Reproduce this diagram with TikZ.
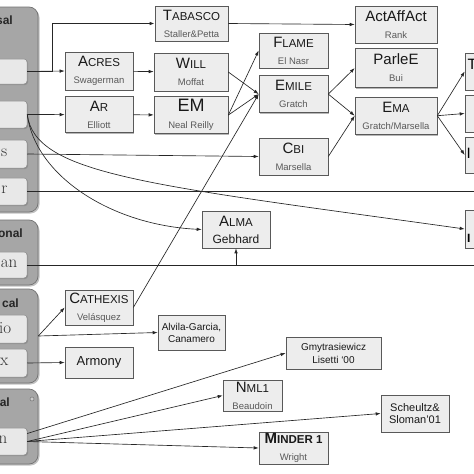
\documentclass[tikz,border=0pt]{standalone}
\usepackage{fontspec}
\setsansfont{Liberation Sans}
\usetikzlibrary{positioning,arrows.meta,shadows}
\newcommand\nm[2]{{\fontsize{15}{15}\selectfont#1}{\fontsize{11.5}{12}\selectfont#2}}
\newcommand\au[1]{{\fontsize{9.5}{10}\selectfont\color{black!65}#1}}

\begin{document}
\begin{tikzpicture}[x=1pt,y=-1pt,
  font=\sffamily\fontsize{10}{17}\selectfont,
  sz/.style 2 args={minimum width=#1pt, minimum height=#2pt},
  model/.style={draw=black!65, fill=black!7, line width=.6pt, align=center, inner sep=1pt, text=black!90,
    drop shadow={shadow xshift=1.3pt, shadow yshift=-1.3pt, fill=black!40, opacity=.7}},
  group/.style={draw=black!55, fill=black!35, line width=.7pt, rounded corners=9pt,
    drop shadow={shadow xshift=1.5pt, shadow yshift=-1.5pt, fill=black!40, opacity=.6}},
  item/.style={draw=black!45, fill=black!9, line width=.5pt, rounded corners=3pt, minimum width=77pt,
    drop shadow={shadow xshift=1pt, shadow yshift=-1pt, fill=black!50, opacity=.6}},
  glabel/.style={anchor=east, inner sep=0pt, text=black!85, font=\sffamily\bfseries\fontsize{12}{12}\selectfont},
  frag/.style={anchor=east, inner sep=0pt, text=black!80, font=\rmfamily\fontsize{17}{17}\selectfont},
  link/.style={draw=black!85, line width=.65pt},
  >={Latex[length=5pt,width=3.5pt]}]
\useasboundingbox (0,0) rectangle (474,474);
\clip (0,0) rectangle (474,474);
\fill[white] (0,0) rectangle (474,474);

\node[group, sz={98}{205}] (g1) at (-11,109.5) {};
\node[group, sz={98}{65}] (g2) at (-11,252.5) {};
\node[group, sz={98}{94}] (g3) at (-11,336) {};
\node[group, sz={98}{75}] (g4) at (-11,426.5) {};
\node[glabel] at (13,20) {sal};
\node[glabel] at (23,233) {onal};
\node[glabel] at (19,303) {cal};
\node[glabel] at (10,402) {al};
\draw[black!55, fill=black!20, line width=.5pt] (32,399) circle (2pt);

\node[item, minimum height=25pt] (i1) at (-11.5,71.5) {};
\node[item, minimum height=27pt] (i2) at (-11.5,114.5) {};
\node[item, minimum height=28pt] (i3) at (-11.5,154) {};
\node[item, minimum height=27pt] (i4) at (-11.5,191.5) {};
\node[item, minimum height=26pt] (i5) at (-11.5,265) {};
\node[item, minimum height=28pt] (i6) at (-11.5,329) {};
\node[item, minimum height=28pt] (i7) at (-11.5,363) {};
\node[item, minimum height=27pt] (i8) at (-11.5,441.5) {};
\node[frag] at (7.5,153) {s};
\node[frag] at (7.5,190) {r};
\node[frag] at (17.5,264) {an};
\node[frag] at (11.5,328) {io};
\node[frag] at (8.5,362) {x};
\node[frag] at (7.5,440) {n};

\node[model, sz={73}{35}] (tab) at (191.5,23.5) {\nm{T}{ABASCO}\\\au{Staller\&Petta}};
\node[model, sz={68}{38}] (acr) at (99,71) {\nm{A}{CRES}\\\au{Swagerman}};
\node[model, sz={68}{36}, below=6pt of acr] (ar) {\nm{A}{R}\\\au{Elliott}};
\node[model, sz={74}{38}] (wil) at (191,72) {\nm{W}{ILL}\\\au{Moffat}};
\node[model, sz={74}{37}, below=5pt of wil] (em) {{\fontsize{18}{17}\selectfont EM}\\\au{Neal Reilly}};
\node[model, sz={69}{35}] (fla) at (293.5,50.5) {\nm{F}{LAME}\\\au{El Nasr}};
\node[model, sz={69}{37}, below=7pt of fla] (emi) {\nm{E}{MILE}\\\au{Gratch}};
\node[model, sz={69}{37}] (cbi) at (293.5,156.5) {\nm{C}{BI}\\\au{Marsella}};
\node[model, sz={82}{37}] (aaa) at (396,24.5) {\nm{ActAffAct}{}\\\au{Rank}};
\node[model, sz={82}{39}, below=5pt of aaa] (par) {\nm{ParleE}{}\\\au{Bui}};
\node[model, sz={82}{37}, below=9pt of par] (ema) {\nm{E}{MA}\\\au{Gratch/Marsella}};
\node[model, sz={60}{37}] (r1) at (495,71.5) {};
\node[model, sz={60}{37}] (r2) at (495,113.5) {};
\node[model, sz={60}{36}] (r3) at (495,155) {};
\node[model, sz={60}{38}] (r4) at (495,229) {};
\node[anchor=west, inner sep=0pt, font=\sffamily\fontsize{15}{15}\selectfont] at (467.5,64) {T};
\node[anchor=west, inner sep=0pt, font=\sffamily\fontsize{15}{15}\selectfont] at (466.5,153) {I};
\node[anchor=west, inner sep=0pt, font=\sffamily\bfseries\fontsize{12}{12}\selectfont] at (467,238) {I};
\node[model, sz={68}{37}] (alm) at (236,229.5) {\nm{A}{LMA}\\{\fontsize{12}{12}\selectfont Gebhard}};
\node[model, sz={68}{35}] (cat) at (99,307.5) {\nm{C}{ATHEXIS}\\\au{Velásquez}};
\node[model, sz={68}{31}] (arm) at (99,362.5) {{\fontsize{13}{13}\selectfont Armony}};
\node[model, sz={67}{35}, font=\sffamily\fontsize{10}{12}\selectfont] (alv) at (191.5,332.5) {Alvila-Garcia,\\Canamero};
\node[model, sz={95}{32}, font=\sffamily\fontsize{10}{13}\selectfont] (gmy) at (333.5,353) {Gmytrasiewicz\\Lisetti `00};
\node[model, sz={59}{31}] (nml) at (252.5,395.5) {\nm{N}{ML1}\\\au{Beaudoin}};
\node[model, sz={68}{37}, font=\sffamily\fontsize{11}{12.5}\selectfont] (sch) at (415,413.5) {Scheultz\&\\Sloman'01};
\node[model, sz={69}{32}] (min) at (293.5,448) {\textbf{\nm{M}{INDER 1}}\\\au{Wright}};

\coordinate (e4) at (480,191.5);
\coordinate (e5) at (480,265);
\draw[link, line width=1.2pt, ->] (i1.east) -- ++(25,0) |- (tab.west);
\draw[link, ->] (i1.east) -- (acr.west);
\draw[link, ->] (i2.east) -- (ar.west);
\draw[link, ->] (i2.east) .. controls (35,175) and (110,225) .. (alm.west);
\draw[link, ->] (i2.east) .. controls (35,175) and (150,185) .. (r4.west);
\draw[link, ->] (i3.east) -- (cbi.west);
\draw[link] (i4.east) -- (e4);
\draw[link] (i5.east) -- (e5);
\draw[link, ->] (alm.south |- i5.east) -- (alm.south);
\draw[link, ->] (acr) -- (wil);
\draw[link, ->] (ar) -- (em);
\draw[link, ->] (tab.east) -- (aaa.west);
\draw[link, ->] (wil.east) -- (emi.west);
\draw[link, ->] (em.east) -- (fla.west);
\draw[link, ->] (em.east) -- (emi.west);
\draw[link, ->] (cat.east) -- (emi.west);
\draw[link, ->] (emi.east) -- (par.west);
\draw[link, ->] (emi.east) -- (ema.west);
\draw[link, ->] (cbi.east) -- (ema.west);
\draw[link, ->] (ema.east) -- (r1.west);
\draw[link, ->] (ema.east) -- (r2.west);
\draw[link, ->] (ema.east) -- (r3.west);
\draw[link, ->] (g3.east) -- (cat.west);
\draw[link, ->] (g3.east) -- (alv.west);
\draw[link, ->] (i7.east) -- (arm.west);
\draw[link, ->] ([yshift=8pt]i8.east) -- (gmy.west);
\draw[link, ->] (i8.east) -- (nml.west);
\draw[link, ->] (i8.east) -- (sch.west);
\draw[link, ->] (i8.east) -- (min.west);
\end{tikzpicture}
\end{document}
